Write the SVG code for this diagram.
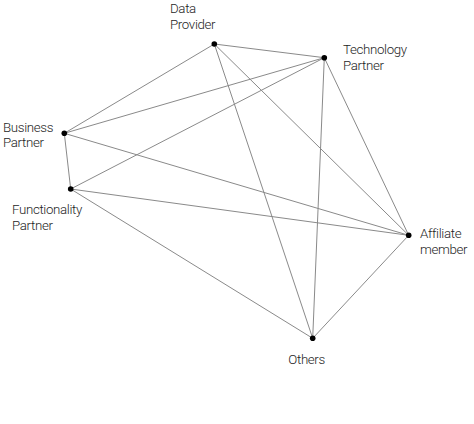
<svg xmlns="http://www.w3.org/2000/svg" width="474" height="424" viewBox="0 0 474 424">
<style>
.e{stroke:#8a8a8a;stroke-width:1;fill:none}
.d{fill:#000}
.t{font-family:Roboto,"Liberation Sans",sans-serif;font-size:13.3px;font-weight:300;letter-spacing:-0.35px;fill:#1e1e1e}
</style>
<rect width="474" height="424" fill="#fff"/>
<g id="connectors">
<line class="e" x1="214.3" y1="44" x2="324.3" y2="57.7"/>
<line class="e" x1="214.3" y1="44" x2="64.3" y2="133.3"/>
<line class="e" x1="214.3" y1="44" x2="312.7" y2="338.3"/>
<line class="e" x1="214.3" y1="44" x2="408.7" y2="235.3"/>
<line class="e" x1="324.3" y1="57.7" x2="64.3" y2="133.3"/>
<line class="e" x1="324.3" y1="57.7" x2="70.7" y2="189"/>
<line class="e" x1="324.3" y1="57.7" x2="408.7" y2="235.3"/>
<line class="e" x1="324.3" y1="57.7" x2="312.7" y2="338.3"/>
<line class="e" x1="64.3" y1="133.3" x2="70.7" y2="189"/>
<line class="e" x1="64.3" y1="133.3" x2="408.7" y2="235.3"/>
<line class="e" x1="70.7" y1="189" x2="408.7" y2="235.3"/>
<line class="e" x1="70.7" y1="189" x2="312.7" y2="338.3"/>
<line class="e" x1="408.7" y1="235.3" x2="312.7" y2="338.3"/>
</g>
<g id="data-provider">
<circle class="d" cx="214.3" cy="44" r="2.8"/>
<text class="t" x="170" y="12.9">Data</text>
<text class="t" x="170" y="28.5">Provider</text>
</g>
<g id="technology-partner">
<circle class="d" cx="324.3" cy="57.7" r="2.8"/>
<text class="t" x="343" y="53.8">Technology</text>
<text class="t" x="343" y="69.5">Partner</text>
</g>
<g id="business-partner">
<circle class="d" cx="64.3" cy="133.3" r="2.8"/>
<text class="t" x="3" y="131.9">Business</text>
<text class="t" x="3" y="147">Partner</text>
</g>
<g id="functionality-partner">
<circle class="d" cx="70.7" cy="189" r="2.8"/>
<text class="t" x="12" y="214.2">Functionality</text>
<text class="t" x="12" y="229.8">Partner</text>
</g>
<g id="affiliate-member">
<circle class="d" cx="408.7" cy="235.3" r="2.8"/>
<text class="t" x="420" y="237.5">Affiliate</text>
<text class="t" x="420" y="253.5">member</text>
</g>
<g id="others">
<circle class="d" cx="312.7" cy="338.3" r="2.8"/>
<text class="t" x="288.3" y="363.5">Others</text>
</g>
</svg>
